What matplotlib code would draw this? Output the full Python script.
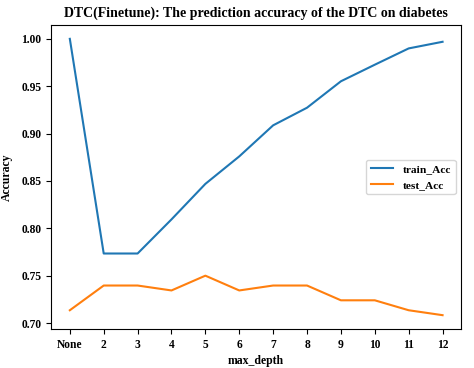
import numpy as np
import matplotlib
matplotlib.use('Agg')
import matplotlib.pyplot as plt

# max_depth values tried (None = unlimited)
depths = ['None', '2', '3', '4', '5', '6', '7', '8', '9', '10', '11', '12']
train_acc = [1.0, 0.7734, 0.7734, 0.8094, 0.8469, 0.8759, 0.9087, 0.9273, 0.9552, 0.9727, 0.9899, 0.9969]
test_acc = [0.7135, 0.7396, 0.7396, 0.7344, 0.7500, 0.7344, 0.7396, 0.7396, 0.7240, 0.7240, 0.7135, 0.7083]

plt.rcParams['font.family'] = ['Liberation Serif', 'DejaVu Serif']
plt.rcParams['font.weight'] = 'bold'

fig, ax = plt.subplots(figsize=(4.74, 3.68), dpi=100)
x = np.arange(len(depths))
ax.plot(x, train_acc, label='train_Acc')
ax.plot(x, test_acc, label='test_Acc')
ax.set_xticks(x)
ax.set_xticklabels(depths)
ax.tick_params(labelsize=8.3)
for lab in ax.get_xticklabels() + ax.get_yticklabels():
    lab.set_fontweight('bold')
ax.set_xlabel('max_depth', fontsize=8.5, fontweight='bold', labelpad=3)
ax.set_ylabel('Accuracy', fontsize=8.5, fontweight='bold', labelpad=6)
ax.set_title('DTC(Finetune): The prediction accuracy of the DTC on diabetes',
             fontsize=10, fontweight='bold', pad=6)
ax.legend(loc='center right', prop={'weight': 'bold', 'size': 8.2})

plt.subplots_adjust(left=0.108, right=0.973, top=0.932, bottom=0.106)
plt.savefig('out.png')
